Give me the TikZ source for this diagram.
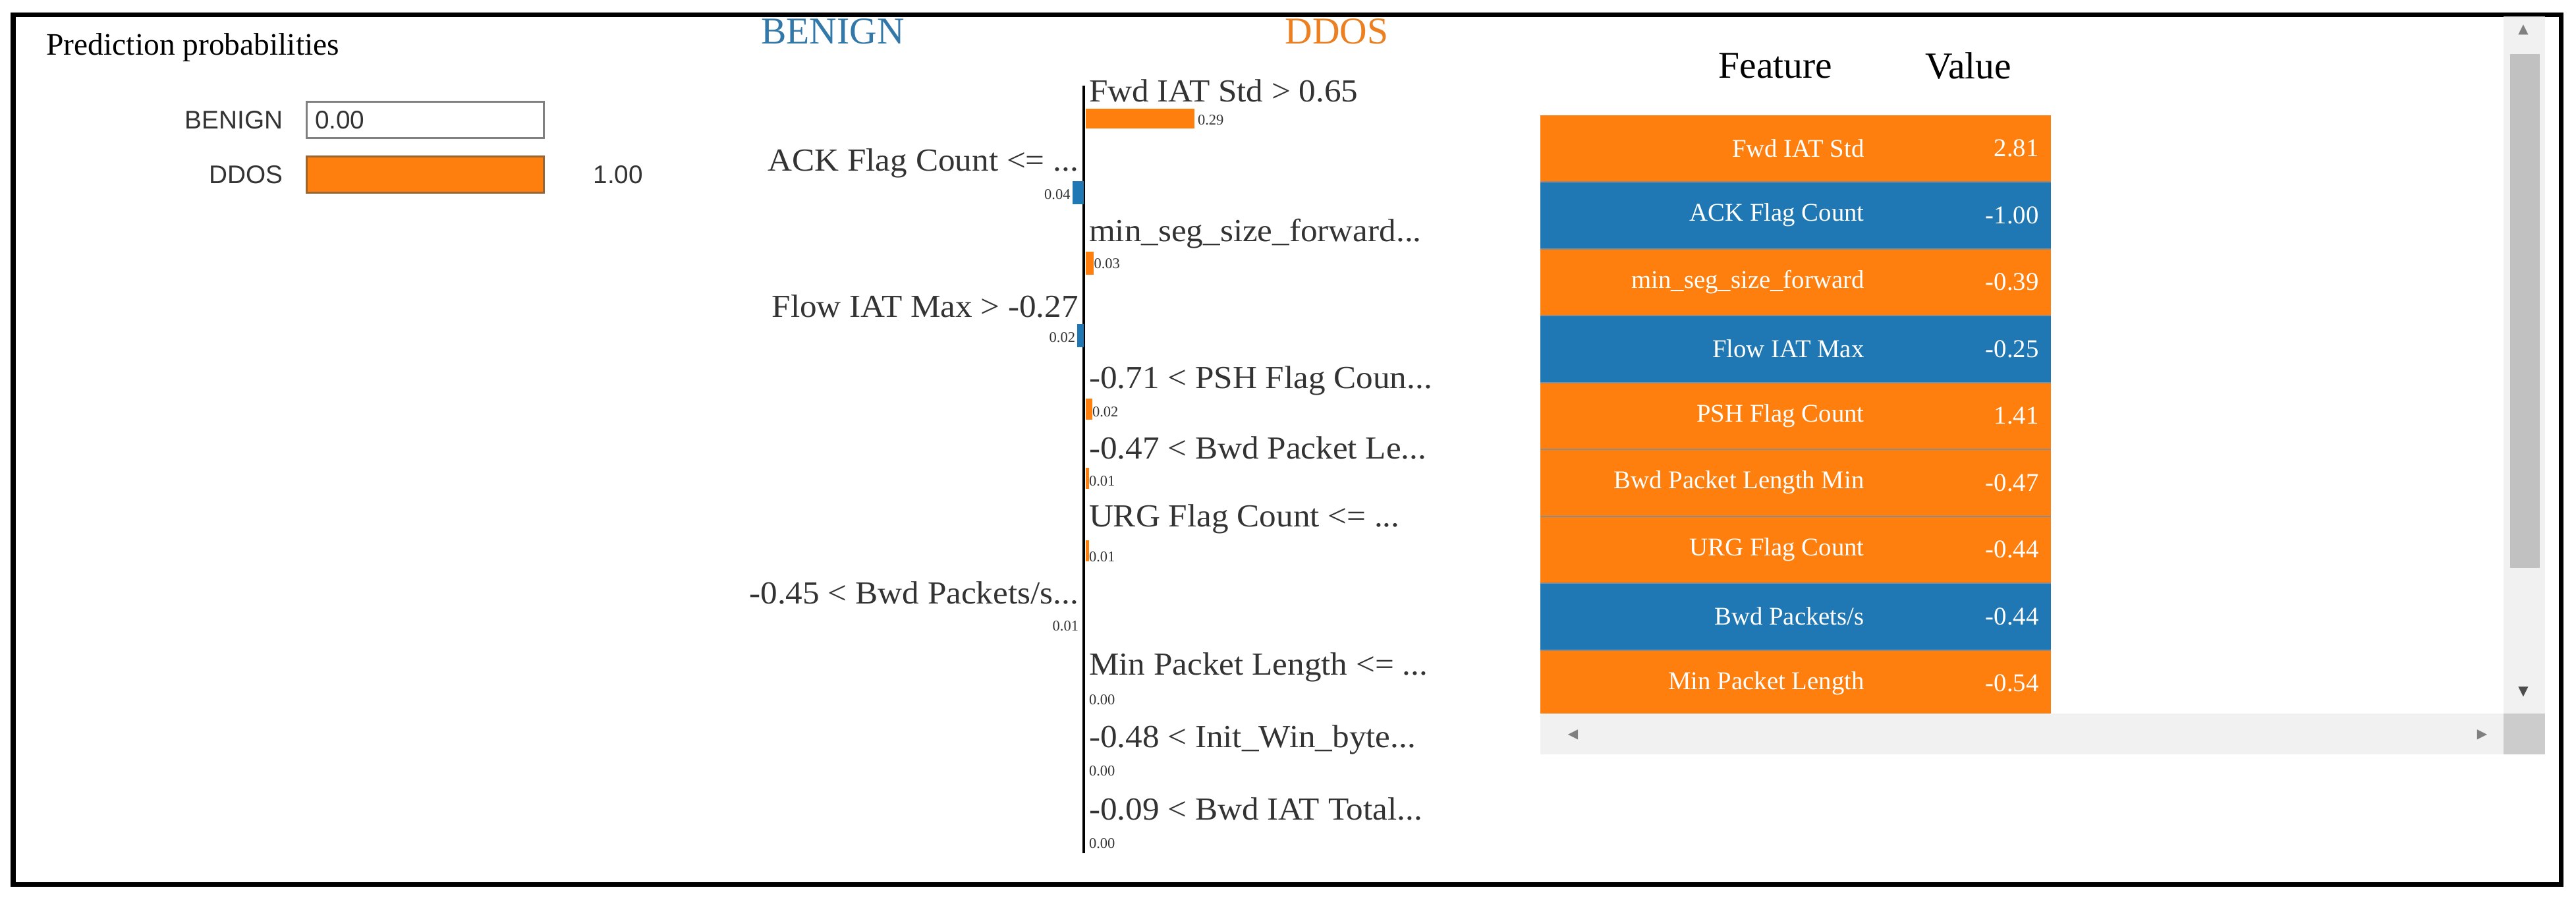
\documentclass[tikz,border=0pt]{standalone}
\usepackage{fontspec}
\setmainfont{Liberation Serif}
\newfontfamily\sansf{Liberation Sans}
\newfontfamily\djv{DejaVu Sans}
\definecolor{limeor}{HTML}{FF7F0E}
\definecolor{limebl}{HTML}{1F77B4}
\definecolor{txtg}{HTML}{333333}
\definecolor{sbg}{HTML}{F1F1F1}
\definecolor{thumb}{HTML}{C1C1C1}
\begin{document}
\begin{tikzpicture}[x=1pt,y=-1pt,
  lbl/.style={font=\fontsize{19.5}{19.5}\selectfont, text=txtg, inner sep=0pt, xscale=1.05},
  val/.style={font=\fontsize{9}{9}\selectfont, text=txtg, inner sep=0pt},
  cell/.style={font=\fontsize{15.5}{16}\selectfont, text=white, inner sep=0pt, anchor=east},
  hdr/.style={font=\fontsize{23}{23}\selectfont, inner sep=0pt}]
\useasboundingbox (0,0) rectangle (1564,545);
\fill[white] (0,0) rectangle (1564,545);
\draw[line width=3pt] (8,9) rectangle (1555,537);
% prediction probabilities
\node[anchor=west, font=\fontsize{19}{19}\selectfont, inner sep=0pt] (pp) at (28,29) {Prediction probabilities};
\node[anchor=east, font=\sansf\fontsize{15.5}{15.5}\selectfont, text=txtg, inner sep=0pt] (lb) at (172,73) {BENIGN};
\node[anchor=east, font=\sansf\fontsize{15.5}{15.5}\selectfont, text=txtg, inner sep=0pt] (ld) at (172,106) {DDOS};
\draw[gray, line width=1.2pt, fill=white] (186,62) rectangle (330,84);
\node[anchor=west, font=\sansf\fontsize{15.5}{15.5}\selectfont, text=txtg, inner sep=0pt] (b0) at (191,73) {0.00};
\draw[draw=brown!80!black, line width=1.2pt, fill=limeor] (186,95) rectangle (330,117);
\node[anchor=west, font=\sansf\fontsize{15.5}{15.5}\selectfont, text=txtg, inner sep=0pt] (d1) at (360,106) {1.00};
% headers
\node[hdr, text=limebl!80!gray, anchor=west] (hb) at (462,19) {BENIGN};
\node[hdr, text=limeor!85!gray, anchor=west] (hd) at (780,19) {DDOS};
% axis
\draw[line width=1.8pt] (658,52) -- (658,518);
% right items
\node[lbl, anchor=west] at (661,55) {Fwd IAT Std > 0.65};
\fill[limeor] (659,66) rectangle (725,78);
\node[val, anchor=west] at (727,73) {0.29};
\node[lbl, anchor=east] at (655,99) {ACK Flag Count <= ...};
\fill[limebl] (651,110) rectangle (658,124);
\node[val, anchor=east] at (650,118) {0.04};
\node[lbl, anchor=west] at (661,142) {min\_seg\_size\_forward...};
\fill[limeor] (659,153) rectangle (664,167);
\node[val, anchor=west] at (664,160) {0.03};
\node[lbl, anchor=east] at (655,186) {Flow IAT Max > -0.27};
\fill[limebl] (654,197) rectangle (658,211);
\node[val, anchor=east] at (653,205) {0.02};
\node[lbl, anchor=west] at (661,231) {-0.71 < PSH Flag Coun...};
\fill[limeor] (659,242) rectangle (663,255);
\node[val, anchor=west] at (663,250) {0.02};
\node[lbl, anchor=west] at (661,272) {-0.47 < Bwd Packet Le...};
\fill[limeor] (659,284) rectangle (661,297);
\node[val, anchor=west] at (661,292) {0.01};
\node[lbl, anchor=west] at (661,315) {URG Flag Count <= ...};
\fill[limeor] (659,328) rectangle (661,341);
\node[val, anchor=west] at (661,338) {0.01};
\node[lbl, anchor=east] at (655,360) {-0.45 < Bwd Packets/s...};
\node[val, anchor=east] at (655,380) {0.01};
\node[lbl, anchor=west] at (661,405) {Min Packet Length <= ...};
\node[val, anchor=west] at (661,425) {0.00};
\node[lbl, anchor=west] at (661,449) {-0.48 < Init\_Win\_byte...};
\node[val, anchor=west] at (661,468) {0.00};
\node[lbl, anchor=west] at (661,491) {-0.09 < Bwd IAT Total...};
\node[val, anchor=west] at (661,512) {0.00};
% table
\node[hdr, anchor=center] (hf) at (1078,40) {Feature};
\node[hdr, anchor=center] (hv) at (1195,40) {Value};
\foreach \i/\c/\f/\v in {0/limeor/{Fwd IAT Std}/2.81, 1/limebl/{ACK Flag Count}/-1.00, 2/limeor/{min\_seg\_size\_forward}/-0.39, 3/limebl/{Flow IAT Max}/-0.25, 4/limeor/{PSH Flag Count}/1.41, 5/limeor/{Bwd Packet Length Min}/-0.47, 6/limeor/{URG Flag Count}/-0.44, 7/limebl/{Bwd Packets{/}s}/-0.44, 8/limeor/{Min Packet Length}/-0.54}{
  \fill[\c] (935,{70+\i*40.6}) rectangle (1245,{70+(\i+1)*40.6});
  \node[cell] at (1132,{90+\i*40.6}) {\f};
  \node[cell] at (1238,{90+\i*40.6}) {\v};
}
\foreach \i in {1,...,8}{ \draw[black!45, line width=0.8pt] (935,{70+\i*40.6}) -- (1245,{70+\i*40.6}); }
% scrollbars
\fill[sbg] (935,433) rectangle (1520,458);
\fill[sbg] (1520,10) rectangle (1545,458);
\fill[black!20] (1520,433) rectangle (1545,458);
\fill[thumb] (1524,33) rectangle (1542,345);
\node[font=\djv\fontsize{8}{8}\selectfont, text=gray] at (1532,18) {▲};
\node[font=\djv\fontsize{8}{8}\selectfont, text=black!70] at (1532,420) {▼};
\node[font=\djv\fontsize{8}{8}\selectfont, text=gray] at (955,446) {◀};
\node[font=\djv\fontsize{8}{8}\selectfont, text=gray] at (1507,446) {▶};
\end{tikzpicture}
\end{document}
